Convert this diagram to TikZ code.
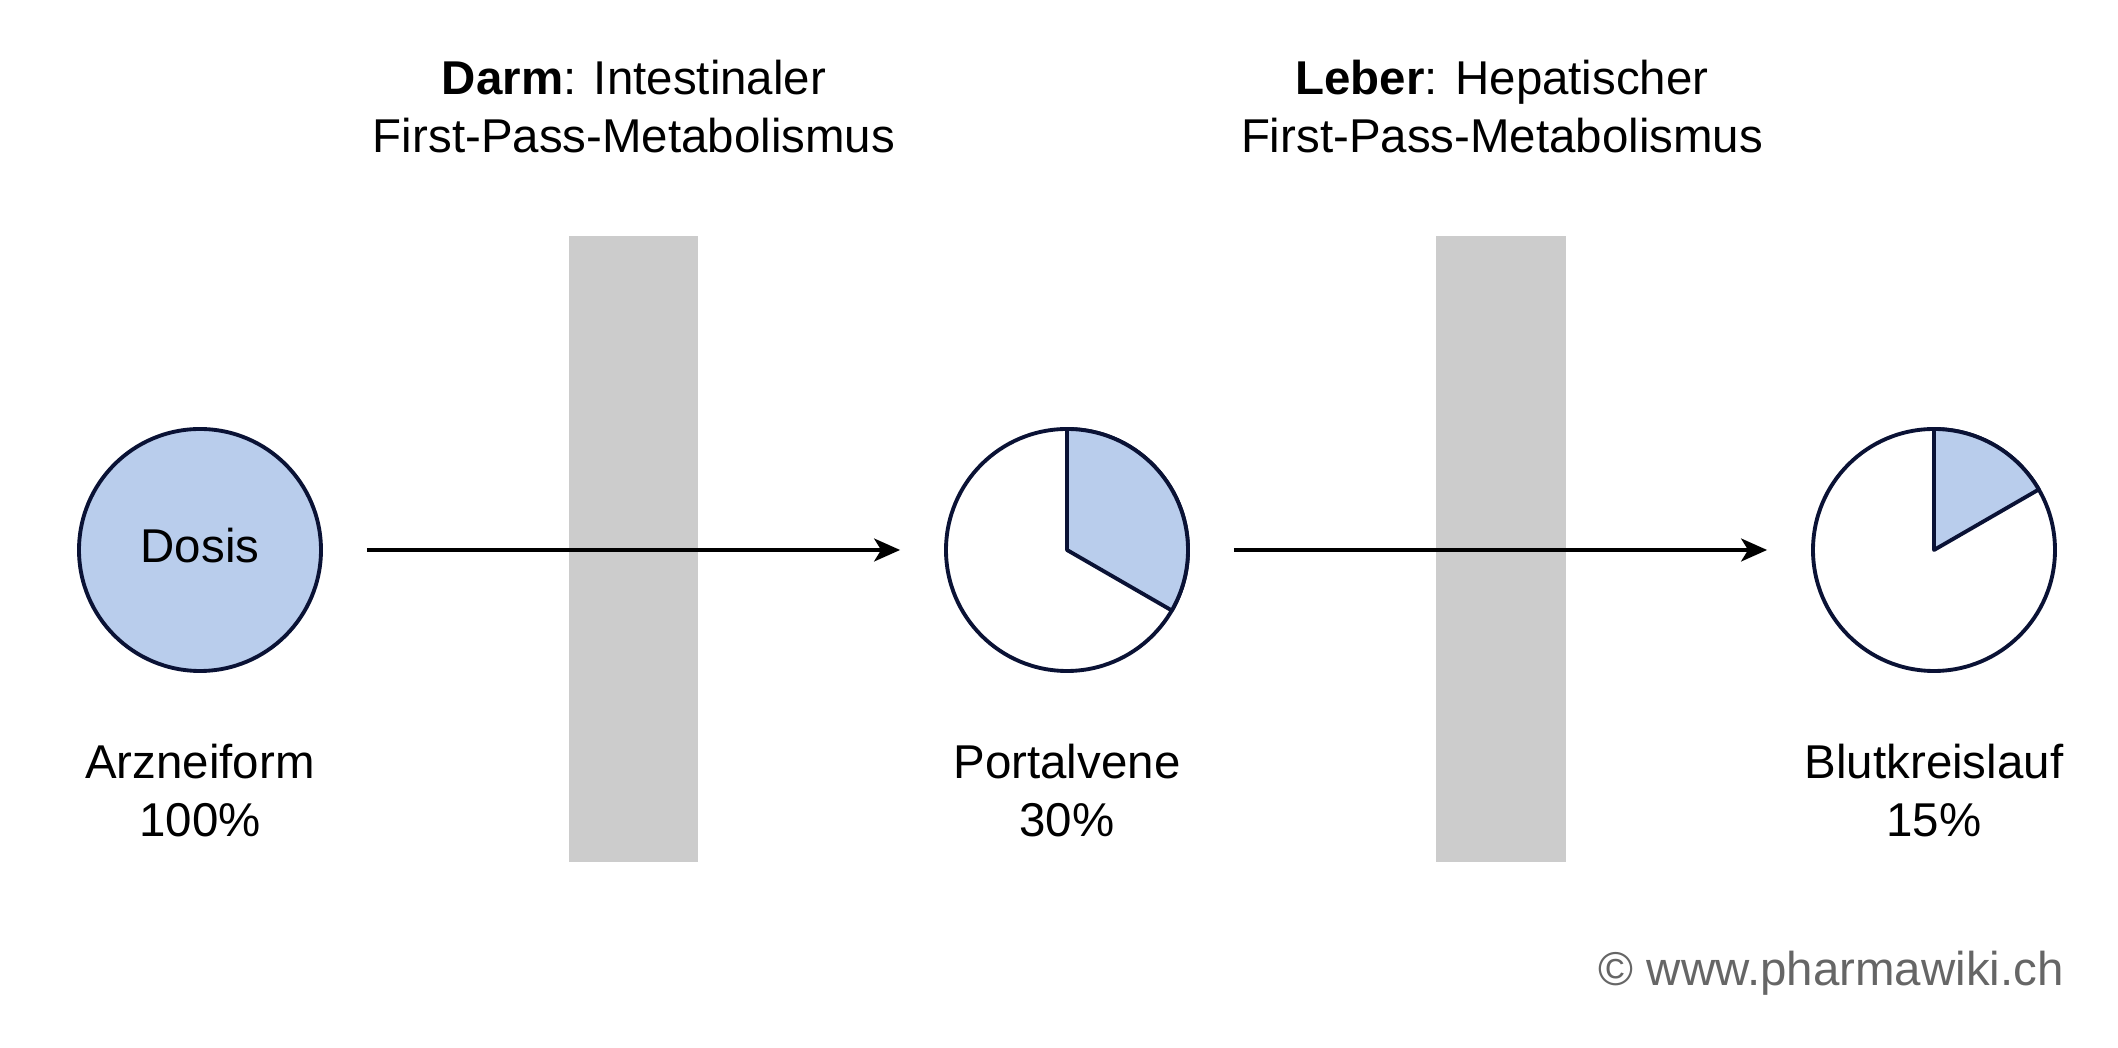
\documentclass[tikz,border=0pt]{standalone}
\usepackage{fontspec}
\setmainfont{Liberation Sans}
\usetikzlibrary{arrows.meta}
\definecolor{navy}{HTML}{0A1235}
\definecolor{slice}{HTML}{B9CDEC}
\definecolor{barGrey}{HTML}{CCCCCC}
\definecolor{credit}{HTML}{666666}
\tikzset{
  doseCircle/.style={circle, draw=navy, line width=1.1pt, fill=slice, minimum size=2.42cm, inner sep=0pt},
  pieCircle/.style={circle, draw=navy, line width=1.1pt, fill=white, minimum size=2.42cm, inner sep=0pt},
  pieSlice/.style={draw=navy, line width=1.1pt, fill=slice, line join=round},
  barrier/.style={fill=barGrey},
  flowArrow/.style={-{Stealth[length=0.26cm, width=0.23cm, inset=0.07cm]}, line width=0.9pt, shorten <=0.44cm, shorten >=0.44cm},
  stageLabel/.style={align=center, font=\fontsize{13.5}{16.5}\selectfont},
  creditText/.style={text=credit, anchor=east, font=\fontsize{13.5}{16.5}\selectfont}
}

\begin{document}
\begin{tikzpicture}
  \useasboundingbox (0,0) rectangle (21.18,10.48);

  \def\r{1.21}

  % barriers
  \fill[barrier] (5.69,1.86) rectangle (6.98,8.12);
  \fill[barrier] (14.36,1.86) rectangle (15.66,8.12);

  \node[stageLabel] (darm) at (6.34,9.41) {\textbf{Darm}: Intestinaler\\First-Pass-Metabolismus};
  \node[stageLabel] (leber) at (15.02,9.41) {\textbf{Leber}: Hepatischer\\First-Pass-Metabolismus};

  % stages
  \node[doseCircle, text depth=0.1cm, font=\fontsize{13.5}{16.5}\selectfont] (dosis) at (2.00,4.98) {Dosis};
  \node[pieCircle] (portal) at (10.67,4.98) {};
  \node[pieCircle] (blut) at (19.34,4.98) {};

  \draw[pieSlice] (portal.center) -- ++(90:\r) arc[start angle=90, end angle=-30, radius=\r] -- cycle;
  \draw[pieSlice] (blut.center) -- ++(90:\r) arc[start angle=90, end angle=30, radius=\r] -- cycle;

  \draw[flowArrow] (dosis) -- (portal);
  \draw[flowArrow] (portal) -- (blut);

  \node[stageLabel] (arznei) at (2.00,2.575) {Arzneiform\\100\%};
  \node[stageLabel] (vene) at (10.67,2.575) {Portalvene\\30\%};
  \node[stageLabel] (kreis) at (19.34,2.575) {Blutkreislauf\\15\%};

  \node[creditText] (web) at (20.76,0.75) {© www.pharmawiki.ch};
\end{tikzpicture}
\end{document}
